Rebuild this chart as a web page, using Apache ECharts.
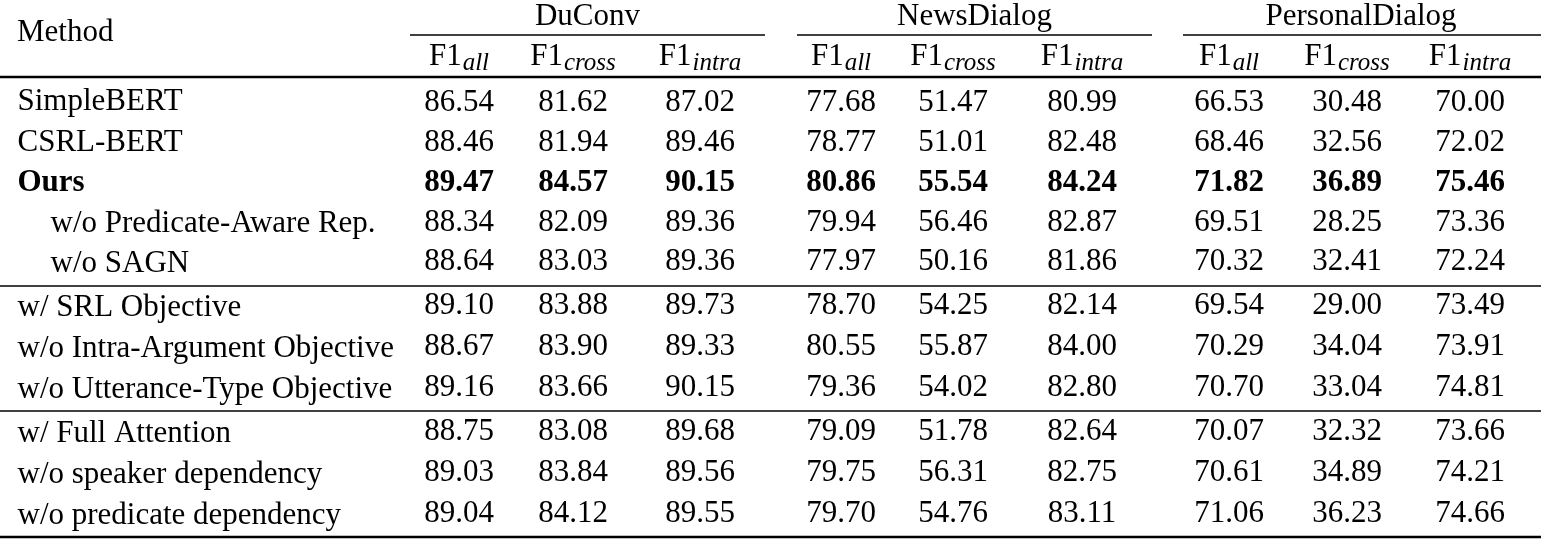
<!DOCTYPE html>
<html><head><meta charset="utf-8">
<script src="https://cdn.jsdelivr.net/npm/echarts@6/dist/echarts.min.js"></script>
<style>html,body{margin:0;padding:0;background:#fff}#c{width:1544px;height:540px}</style>
</head><body><div id="c"></div>
<script>
// ---------- data ----------
const methods = ['SimpleBERT','CSRL-BERT','Ours','w/o Predicate-Aware Rep.','w/o SAGN',
  'w/ SRL Objective','w/o Intra-Argument Objective','w/o Utterance-Type Objective',
  'w/ Full Attention','w/o speaker dependency','w/o predicate dependency'];
const datasets = ['DuConv','NewsDialog','PersonalDialog'];
const metrics = ['all','cross','intra'];
const duconvAll   = [86.54, 88.46, 89.47, 88.34, 88.64, 89.10, 88.67, 89.16, 88.75, 89.03, 89.04];
const duconvCross = [81.62, 81.94, 84.57, 82.09, 83.03, 83.88, 83.90, 83.66, 83.08, 83.84, 84.12];
const duconvIntra = [87.02, 89.46, 90.15, 89.36, 89.36, 89.73, 89.33, 90.15, 89.68, 89.56, 89.55];
const newsAll     = [77.68, 78.77, 80.86, 79.94, 77.97, 78.70, 80.55, 79.36, 79.09, 79.75, 79.70];
const newsCross   = [51.47, 51.01, 55.54, 56.46, 50.16, 54.25, 55.87, 54.02, 51.78, 56.31, 54.76];
const newsIntra   = [80.99, 82.48, 84.24, 82.87, 81.86, 82.14, 84.00, 82.80, 82.64, 82.75, 83.11];
const personalAll   = [66.53, 68.46, 71.82, 69.51, 70.32, 69.54, 70.29, 70.70, 70.07, 70.61, 71.06];
const personalCross = [30.48, 32.56, 36.89, 28.25, 32.41, 29.00, 34.04, 33.04, 32.32, 34.89, 36.23];
const personalIntra = [70.00, 72.02, 75.46, 73.36, 72.24, 73.49, 73.91, 74.81, 73.66, 74.21, 74.66];
const bestRow = 2;
const indentedRows = [3, 4];
const blocks = [[0, 5], [5, 8], [8, 11]];

// ---------- layout / style ----------
const values = [[duconvAll, duconvCross, duconvIntra], [newsAll, newsCross, newsIntra], [personalAll, personalCross, personalIntra]];
const FONT = 'Liberation Serif';
const FS = 31;
const blockTop = [79.75, 285.5, 411.5];
const blockH = [202.5, 123, 123];
const groupLeft = [398.75, 780.75, 1168.75];
const groupWidth = [361.5, 361.5, 361.5];
const midShift = [-6.5, -8.5, -2.5];
const nameShift = [8, 13, 11.5];

const grid = [], xAxis = [], yAxis = [], series = [];
blocks.forEach((blk, b) => {
  const rows = methods.slice(blk[0], blk[1]);
  for (let g = 0; g < 4; g++) {
    const gi = grid.length;
    if (g === 0) {
      grid.push({left: 0, width: 10, top: blockTop[b], height: blockH[b]});
      xAxis.push({gridIndex: gi, type: 'value', min: 0, max: 1, show: false});
    } else {
      const d = g - 1;
      grid.push({left: groupLeft[d], width: groupWidth[d], top: blockTop[b], height: blockH[b]});
      if (b === 0) {
        xAxis.push({
          gridIndex: gi, type: 'category', data: metrics, position: 'top',
          axisLine: {show: false}, axisTick: {show: false}, splitLine: {show: false},
          name: datasets[d], nameLocation: 'middle', nameGap: 51,
          nameTextStyle: {fontFamily: FONT, fontSize: FS, color: '#000',
            padding: [0, 0, 0, 2 * nameShift[d]]},
          axisLabel: {
            margin: 7, interval: 0,
            formatter: (v, i) => i === 1 ? `{m|F1}{t|${v}}` : `{m|F1}{s|${v}}`,
            rich: {
              m: {fontFamily: FONT, fontSize: FS, color: '#000'},
              s: {fontFamily: FONT, fontSize: 25, fontStyle: 'italic', color: '#000', padding: [14, 0, 0, 1]},
              t: {fontFamily: FONT, fontSize: 25, fontStyle: 'italic', color: '#000', padding: [14, -2 * midShift[d], 0, 1]}
            }
          }
        });
      } else {
        xAxis.push({gridIndex: gi, type: 'category', data: metrics, show: false});
      }
    }
    yAxis.push({gridIndex: gi, type: 'category', data: rows, inverse: true, show: false});

    const data = [];
    rows.forEach((name, k) => {
      const r = blk[0] + k;
      const bold = r === bestRow ? 'bold' : 'normal';
      if (g === 0) {
        data.push({value: [0, k], name: name,
          label: {fontWeight: bold, distance: indentedRows.includes(r) ? 50 : 17, offset: [0, 2]}});
      } else {
        const d = g - 1;
        for (let c = 0; c < 3; c++) {
          data.push({value: [c, k, values[d][c][r]],
            label: {fontWeight: bold, offset: [c === 1 ? midShift[d] : 0, 0]}});
        }
      }
    });
    series.push({
      type: 'scatter', xAxisIndex: gi, yAxisIndex: gi, symbolSize: 1, clip: false, silent: true,
      itemStyle: {color: 'rgba(0,0,0,0)', opacity: 1},
      label: g === 0
        ? {show: true, position: 'right', formatter: '{b}', fontFamily: FONT, fontSize: FS, color: '#000', opacity: 1}
        : {show: true, position: 'inside', formatter: p => p.value[2].toFixed(2), fontFamily: FONT, fontSize: FS, color: '#000', opacity: 1},
      data: data
    });
  }
});

const rule = (x1, x2, y, w) => ({type: 'line', silent: true, shape: {x1, y1: y, x2, y2: y}, style: {stroke: '#000', lineWidth: w}});

const chart = echarts.init(document.getElementById('c'));
chart.setOption({
  backgroundColor: '#fff',
  animation: false,
  title: {text: 'Method', left: 17, top: 17.5, padding: 0,
    textStyle: {fontFamily: FONT, fontSize: FS, fontWeight: 'normal', color: '#000'}},
  grid, xAxis, yAxis, series,
  graphic: [
    rule(410, 765, 35, 1.4), rule(797, 1152, 35, 1.4), rule(1183, 1541, 35, 1.4),
    rule(0, 1541, 77, 2.6), rule(0, 1541, 286, 1.4), rule(0, 1541, 411, 1.4), rule(0, 1541, 537, 2.6)
  ]
});
</script></body></html>
